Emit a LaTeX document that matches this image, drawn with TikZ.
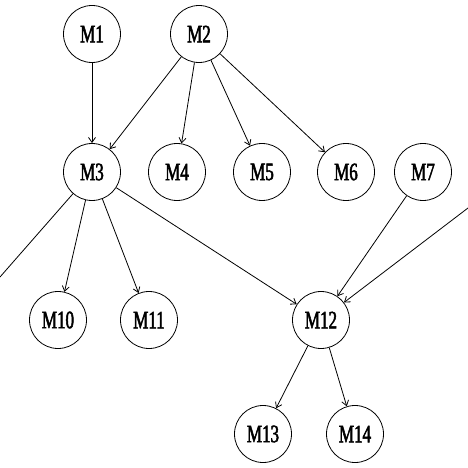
\documentclass[tikz,border=0pt]{standalone}
\usepackage{fontspec}
\newfontfamily\mfont[FakeStretch=0.68,FakeBold=2]{Liberation Serif}
\usetikzlibrary{arrows.meta}
\begin{document}
\begin{tikzpicture}[x=1pt,y=-1pt,line width=0.8pt,>={Straight Barb[length=5pt,width=7pt]},main node/.style={circle,draw,minimum size=57pt,inner sep=0pt,font=\mfont\fontsize{25}{25}\selectfont}]
                \useasboundingbox (0,0) rectangle (468,468);
                \node[main node] at (92, 34) (m1) {M1};
                \node[main node] at (199, 34) (m2) {M2};
                \node[main node] at (92, 172) (m3) {M3};
                \node[main node] at (177, 172) (m4) {M4};
                \node[main node] at (262, 172) (m5) {M5};
                \node[main node] at (346, 172) (m6) {M6};
                \node[main node] at (423, 172) (m7) {M7};
                \node[main node] at (58, 320) (m10) {M10};
                \node[main node] at (149, 320) (m11) {M11};
                \node[main node] at (321, 320) (m12) {M12};
                \node[main node] at (263, 434) (m13) {M13};
                \node[main node] at (355, 434) (m14) {M14};
                \coordinate (lft) at (0, 277);
                \coordinate (rgt) at (468, 208);

                \path[->] (m1) edge[] node [] {} (m3);
                \path[->] (m2) edge[] node [] {} (m3);
                \path[->] (m2) edge[] node [] {} (m4);
                \path[->] (m2) edge[] node [] {} (m5);
                \path[->] (m2) edge[] node [] {} (m6);

                \path[->]
                    (m3) edge (m10)
                    (m3) edge (m11)
                    (m3) edge (m12)
                    (m7) edge (m12)
                    (rgt) edge (m12)
                    (m12) edge (m13)
                    (m12) edge (m14)
                    ;
                \path (m3) edge (lft);
            \end{tikzpicture}
\end{document}
